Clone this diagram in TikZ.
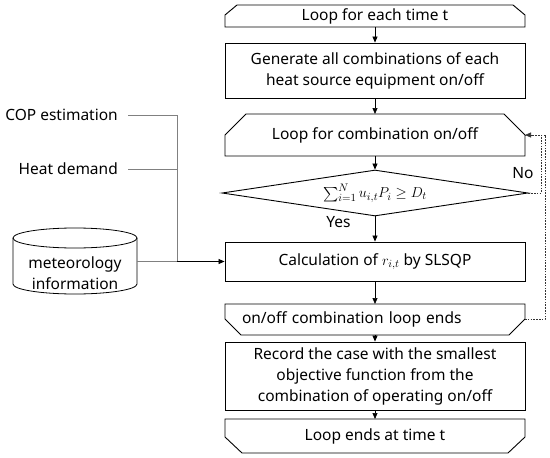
\documentclass[tikz,border=0pt]{standalone}
\usepackage{amsmath}
\usepackage{fontspec}
\setmainfont{Noto Sans}
\usetikzlibrary{shapes.geometric,arrows.meta,calc}
\begin{document}
\begin{tikzpicture}[x=1pt,y=-1pt,
  font=\fontsize{15.5}{21}\selectfont,
  box/.style={draw,line width=0.9pt,minimum width=300pt,inner sep=2pt,align=center},
  shell/.style={minimum width=300pt,inner sep=2pt,outer sep=0pt,align=center},
  outline/.style={draw,line width=0.9pt,line join=miter},
  arr/.style={-{Triangle[length=6pt,width=5pt]},line width=0.7pt},
  fb/.style={line width=0.6pt,dash pattern=on 1.6pt off 1.2pt,black!80},
  feed/.style={gray,line width=0.8pt},
  lbl/.style={inner sep=0pt}
]
\useasboundingbox (0,0) rectangle (550,458);

\node[shell,minimum height=22pt] (b1) at (375,16) {Loop for each time t};
\draw[outline] (b1.south west) -- ($(b1.north west)+(0,10)$) -- ($(b1.north west)+(12,0)$) -- ($(b1.north east)+(-12,0)$) -- ($(b1.north east)+(0,10)$) -- (b1.south east) -- cycle;

\node[box,minimum height=55pt] (b2) at (375,70.5) {Generate all combinations of each\\heat source equipment on/off};

\node[shell,minimum height=42pt] (b3) at (375,135) {\raisebox{-5pt}{Loop for combination on/off}};
\draw[outline] (b3.south west) -- ($(b3.north west)+(0,21)$) -- ($(b3.north west)+(21,0)$) -- ($(b3.north east)+(-21,0)$) -- ($(b3.north east)+(0,21)$) -- (b3.south east) -- cycle;

\node[draw,line width=0.9pt,diamond,aspect=6.6,minimum width=306pt,minimum height=46pt,inner sep=0pt] (dia) at (375,193) {$\sum_{i=1}^{N} u_{i,t}P_i \geq D_t$};
\node[box,minimum height=39pt] (b4) at (375,261.5) {Calculation of $r_{i,t}$ by SLSQP};

\node[shell,minimum height=31pt,text width=266pt,inner xsep=17pt,align=left] (b5) at (375,319.5) {on/off combination loop ends};
\draw[outline] (b5.north west) -- ($(b5.south west)+(0,-16)$) -- ($(b5.south west)+(16,0)$) -- ($(b5.south east)+(-16,0)$) -- ($(b5.south east)+(0,-16)$) -- (b5.north east) -- cycle;

\node[box,minimum height=68pt] (b6) at (375,376) {Record the case with the smallest\\objective function from the\\combination of operating on/off};

\node[shell,minimum height=34pt] (b7) at (375,436) {Loop ends at time t};
\draw[outline] (b7.north west) -- ($(b7.south west)+(0,-16)$) -- ($(b7.south west)+(17,0)$) -- ($(b7.south east)+(-17,0)$) -- ($(b7.south east)+(0,-16)$) -- (b7.north east) -- cycle;

\node[lbl,anchor=east] (cop) at (118,115) {COP estimation};
\node[lbl,anchor=east] (heat) at (118,169) {Heat demand};
\node[lbl,minimum width=124pt,align=center] (cyl) at (75,273) {meteorology\\information};
\draw[line width=0.8pt] (13,238) -- (13,284) arc[start angle=180,end angle=360,x radius=62,y radius=-10] -- (137,238);
\draw[line width=0.8pt] (75,238) ellipse[x radius=62,y radius=10];

\node[lbl] (yes) at (338.5,222) {Yes};
\node[lbl] (no) at (523,173) {No};

\coordinate (j) at (177,261.5);
\draw[feed,shorten <=10pt] (cop.east) -| (j);
\draw[feed,shorten <=10pt] (heat.east) -- (heat.east -| j);
\draw[feed] (cyl.east |- j) -- (j);
\draw[arr] (j) -- (b4.west);

\draw[arr] (b1) -- (b2);
\draw[arr] (b2) -- (b3);
\draw[arr] (b3) -- (dia);
\draw[arr] (dia) -- (b4);
\draw[arr] (b4) -- (b5);
\draw[arr] (b5) -- (b6);
\draw[arr] (b6) -- (b7);

\draw[fb,-{Triangle[length=6pt,width=5pt]}] (b5.east) -- ++(20,0) |- (b3.east);
\draw[fb] (dia.east) -- ++(13,0) |- (b3.east);
\end{tikzpicture}
\end{document}
